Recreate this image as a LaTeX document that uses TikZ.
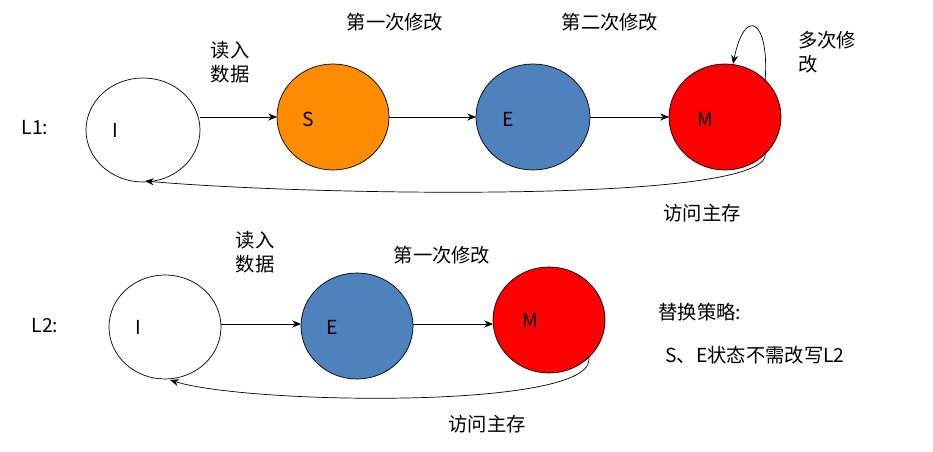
\documentclass[tikz,border=0pt]{standalone}
\usepackage{fontspec}
\setmainfont{Noto Sans CJK SC}
\usetikzlibrary{arrows.meta}
\begin{document}
\begin{tikzpicture}[x=0.02cm,y=-0.02cm,
  st/.style={draw=black,thin},
  lbl/.style={font=\fontsize{11}{14}\selectfont,align=center,inner sep=0},
  arr/.style={-{Stealth[length=5pt,width=4pt]},thin}]
\useasboundingbox (0,0) rectangle (933,452);
\tikzset{every node/.style={lbl}}
% L1
\draw[st,fill=white] (143,130) ellipse [x radius=57,y radius=52];
\draw[st,fill=orange!90!yellow] (333,117) ellipse [x radius=56,y radius=53];
\draw[st,fill={rgb,255:red,79;green,129;blue,189}] (533,117) ellipse [x radius=57,y radius=53];
\draw[st,fill=red] (725,117) ellipse [x radius=56,y radius=53];
\coordinate (I1r) at (200,117); \coordinate (S1l) at (277,117);
\coordinate (S1r) at (389,117); \coordinate (E1l) at (476,117);
\coordinate (E1r) at (590,117); \coordinate (M1l) at (669,117);
\node (l1) at (35,128) {L1:};
\node (i1) at (115,130) {I};
\node (s1) at (308,119) {S};
\node (e1) at (508,119) {E};
\node (m1) at (705,119) {M};
\draw[arr] (I1r) -- (S1l);
\draw[arr] (S1r) -- (E1l);
\draw[arr] (E1r) -- (M1l);
\coordinate (ma) at (765,82); \coordinate (mb) at (733,64);
\draw[arr] (ma) .. controls (770,20) and (745,5) .. (mb);
\coordinate (mbot) at (765,152); \coordinate (ibot) at (145,181);
\draw[arr] (mbot) .. controls (780,205) and (300,195) .. (ibot);
\node (t1) at (230,62) {读入\\数据};
\node (t2) at (395,22) {第一次修改};
\node (t3) at (610,22) {第二次修改};
\node[align=left] (t4) at (827,52) {多次修\\改};
\node (t5) at (702,213) {访问主存};
% L2
\draw[st,fill=white] (165,327) ellipse [x radius=56,y radius=52];
\draw[st,fill={rgb,255:red,79;green,129;blue,189}] (357,326) ellipse [x radius=56,y radius=53];
\draw[st,fill=red] (549,320) ellipse [x radius=56,y radius=53];
\coordinate (I2r) at (221,324); \coordinate (E2l) at (301,324);
\coordinate (E2r) at (413,324); \coordinate (M2l) at (493,324);
\node (l2) at (45,326) {L2:};
\node (i2) at (138,327) {I};
\node (e2) at (332,327) {E};
\node (m2) at (530,320) {M};
\draw[arr] (I2r) -- (E2l);
\draw[arr] (E2r) -- (M2l);
\coordinate (m2bot) at (588,355); \coordinate (i2bot) at (170,380);
\draw[arr] (m2bot) .. controls (610,410) and (250,405) .. (i2bot);
\node (u1) at (255,252) {读入\\数据};
\node (u2) at (442,255) {第一次修改};
\node (u3) at (487,424) {访问主存};
\node (u4) at (700,312) {替换策略:};
\node (u5) at (755,355) {S、E状态不需改写L2};
\end{tikzpicture}
\end{document}
